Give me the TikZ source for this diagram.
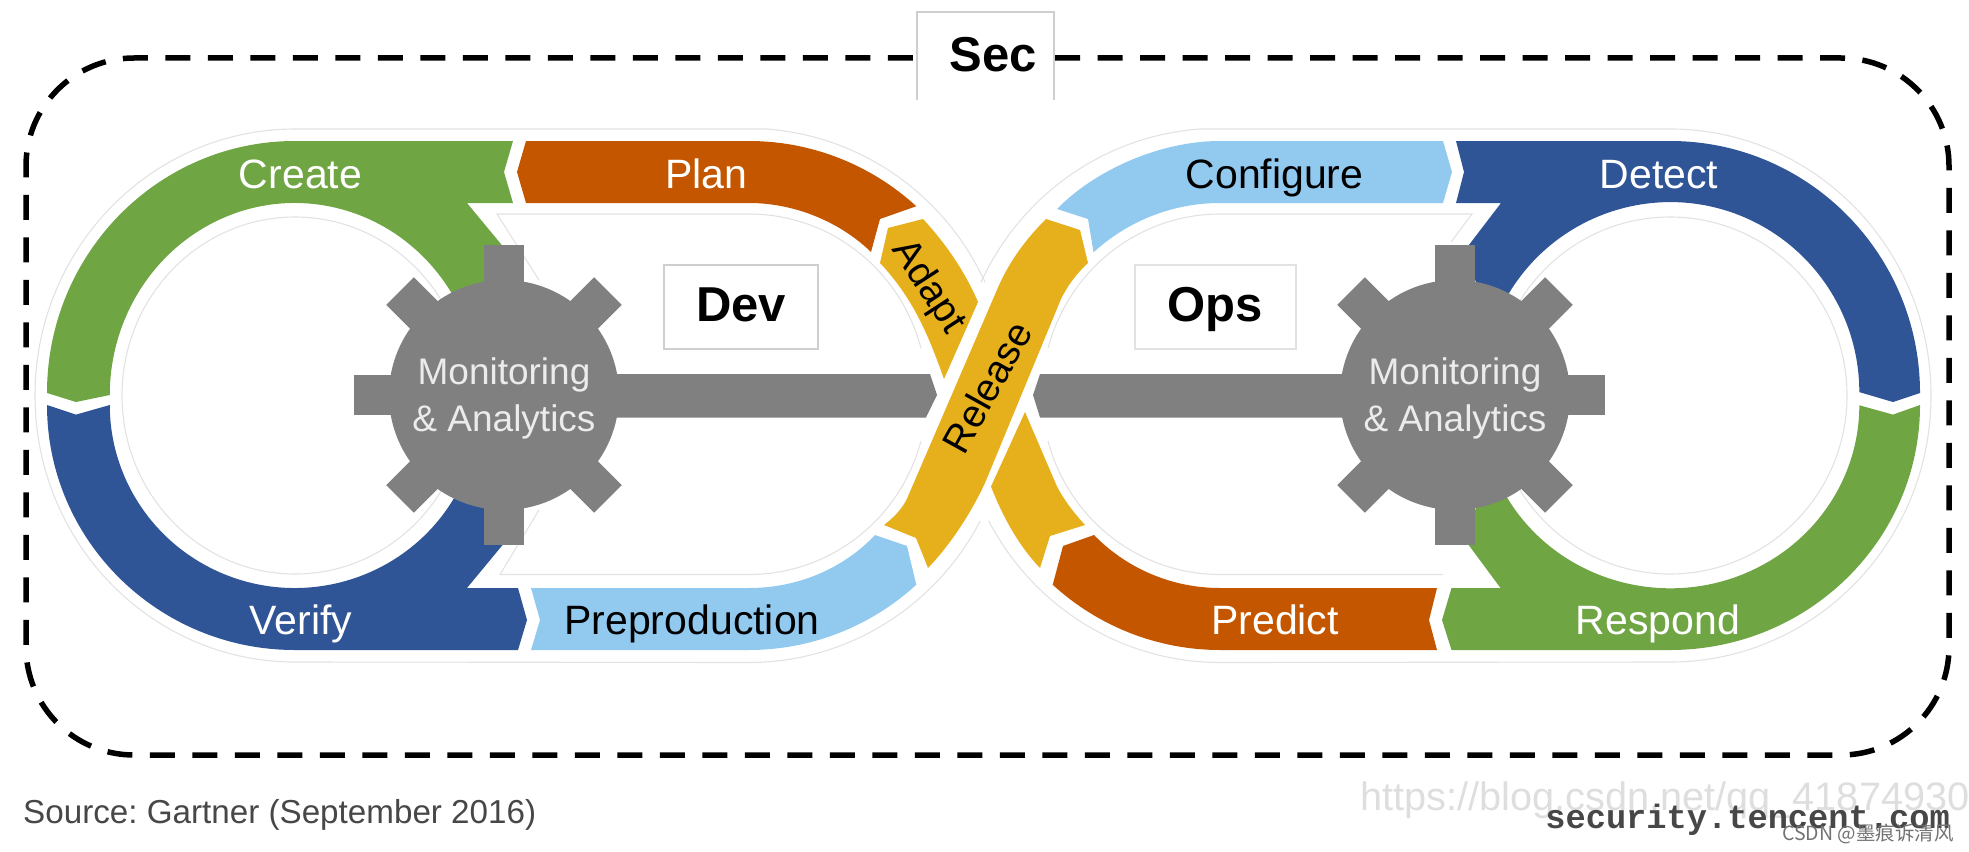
\documentclass[tikz,border=0pt]{standalone}
\usepackage{fontspec}
\setmainfont{Liberation Sans}
\newfontfamily\monofam{Liberation Mono}
\newfontfamily\cjkfam{Noto Sans CJK SC}
\definecolor{cgreen}{HTML}{70A544}
\definecolor{corange}{HTML}{C55600}
\definecolor{cblue}{HTML}{305596}
\definecolor{clight}{HTML}{92CAEF}
\definecolor{cyellow}{HTML}{E6AF1C}
\definecolor{cgray}{HTML}{808080}
\definecolor{chair}{HTML}{E2E2E2}
\definecolor{cbox}{HTML}{CFCFCF}
\newcommand{\fsz}[1]{\fontsize{#1}{#1}\selectfont}
\newcommand{\gearshape}[2]{%
 \begin{scope}[shift={(#1,#2)}]
  \fill[cgray] (0,0) circle[radius=115];
  \foreach \a in {0,90,180,270}{\fill[cgray,rotate=\a] (-20,-150) rectangle (20,0);}
  \foreach \a in {45,135,225,315}{\fill[cgray,rotate=\a] (-19.5,-147) rectangle (19.5,0);}
 \end{scope}}
\tikzset{
 lab/.style={anchor=base,inner sep=0pt,font=\fsz{41},text=#1},
 title/.style={anchor=base,inner sep=0pt,font=\fsz{49}\bfseries,text=black},
 gearlab/.style={align=center,inner sep=0pt,text=white!92!black,font=\fontsize{37}{46.5}\selectfont},
 hair/.style={draw=chair,line width=1.1pt},
 boxed/.style={draw=#1,line width=1.6pt,fill=white}
}
\begin{document}
\begin{tikzpicture}[x=1pt,y=1pt,yscale=-1]
\useasboundingbox (0,0) rectangle (1969,851);
% dashed frame
\draw[black,line width=5.5pt,dash pattern=on 25pt off 17.5pt,rounded corners=108pt]
 (1055,58) -- (1949,58) -- (1949,755) -- (26,755) -- (26,58) -- (917,58);
% Sec box
\fill[white] (917,12) rectangle (1054,100);
\draw[cbox,line width=1.6pt] (917,100) -- (917,12) -- (1054,12) -- (1054,100);
\node[title] (sec) at (993,71.5) {Sec};
% thin outlines
\draw[hair] (295,129) -- (766,129) arc[start angle=274,end angle=335,x radius=262,y radius=267];
\draw[hair] (295,129) arc[start angle=270,end angle=90,x radius=260,y radius=266.5] -- (749,662.5) arc[start angle=90,end angle=28,x radius=262,y radius=267];
\draw[hair] (1670,129) -- (1200,129) arc[start angle=266,end angle=205,x radius=262,y radius=267];
\draw[hair] (1670,129) arc[start angle=270,end angle=450,x radius=261,y radius=266.5] -- (1220,662.5) arc[start angle=90,end angle=152,x radius=262,y radius=267];
\draw[hair] (295,217) arc[start angle=270,end angle=630,x radius=173,y radius=178.5];
\draw[hair] (1670,217) arc[start angle=270,end angle=630,x radius=177,y radius=178.5];
\draw[hair] (539,280) -- (497,214) -- (749,214) arc[start angle=270,end angle=345,x radius=178,y radius=181];
\draw[hair] (539,510) -- (500,574.5) -- (749,574.5) arc[start angle=90,end angle=15,x radius=178,y radius=180];
\draw[hair] (1451,242) -- (1472,214) -- (1220,214) arc[start angle=270,end angle=195,x radius=178,y radius=181];
\draw[hair] (1443,574.5) -- (1220,574.5) arc[start angle=90,end angle=165,x radius=178,y radius=180];
% Create
\fill[cgreen] (47,393) arc[start angle=180,end angle=270,x radius=248,y radius=252] -- (513,141) -- (504,172) -- (513,203) -- (467,203) -- (510,255) -- (490,290) -- (455,299)
 arc[start angle=330,end angle=180,x radius=185,y radius=192] -- (76,402) -- cycle;
% Verify
\fill[cblue] (47,405) arc[start angle=180,end angle=90,x radius=248,y radius=245] -- (518,650) -- (527,620) -- (518,588) -- (467,588) -- (510,536) -- (490,500) -- (455,496.5)
 arc[start angle=30,end angle=180,x radius=185,y radius=183] -- (76,414.6) -- cycle;
% Plan
\fill[corange] (526,141) -- (749,141) arc[start angle=270,end angle=312,x radius=250,y radius=254] -- (880,219) -- (871,252)
 .. controls (840,222) and (795,203) .. (749,203) -- (526,203) -- (517,172) -- cycle;
% Preproduction
\fill[clight] (531,588) -- (540,620) -- (531,650) -- (749,650) arc[start angle=90,end angle=48,x radius=250,y radius=254] -- (907,546) -- (875,535)
 .. controls (845,567) and (800,588) .. (749,588) -- cycle;
% Configure
\fill[clight] (1443,141) -- (1452,172) -- (1443,203) -- (1220,203) arc[start angle=270,end angle=228,x radius=189,y radius=192] -- (1088,219) -- (1057,209)
 .. controls (1095,170) and (1160,141) .. (1220,141) -- cycle;
% Predict
\fill[corange] (1437,588) -- (1429,620) -- (1437,650) -- (1220,650) arc[start angle=90,end angle=132,x radius=250,y radius=254] -- (1063,546) -- (1094,535)
 .. controls (1125,567) and (1170,588) .. (1220,588) -- cycle;
% Detect
\fill[cblue] (1920,393) arc[start angle=360,end angle=270,x radius=250,y radius=252] -- (1456,141) -- (1464,172) -- (1456,203) -- (1501,203) -- (1462,254) -- (1480,290) -- (1505,300)
 arc[start angle=209,end angle=360,x radius=189,y radius=190] -- (1893,402) -- cycle;
% Respond
\fill[cgreen] (1920,405) arc[start angle=0,end angle=90,x radius=250,y radius=245] -- (1451.5,650) -- (1442,620) -- (1451.5,588) -- (1500.5,588) -- (1462,536) -- (1480,500) -- (1505,494)
 arc[start angle=151,end angle=0,x radius=189,y radius=183] -- (1893,414.6) -- cycle;
% gears and bars
\gearshape{504}{395}
\gearshape{1455}{395}
\fill[cgray] (504,374) -- (930,374) -- (937,395) -- (926,417.5) -- (504,417.5) -- cycle;
\fill[cgray] (1455,374) -- (1040,374) -- (1033,395) -- (1040,417.5) -- (1455,417.5) -- cycle;
% Adapt
\fill[cyellow] (888,228) -- (923,219) .. controls (947,245) and (965,272) .. (978,302) -- (944,379) .. controls (930,340) and (915,300) .. (880,263) -- cycle;
% lower yellow
\fill[cyellow] (1025,412) -- (1057,486.5) .. controls (1064,500) and (1074,513) .. (1085,525) -- (1050,536) -- (1040,568) .. controls (1018,545) and (1002,515) .. (991,486.5) -- cycle;
% Release
\fill[cyellow] (1046,219) -- (1080,230) -- (1088,263) .. controls (1075,275) and (1067,287) .. (1061,299) -- (985,483) .. controls (970,515) and (950,545) .. (928,568) -- (916,538) -- (884,525) .. controls (897,515) and (905,505) .. (909,494) -- (998,287.5) .. controls (1010,260) and (1027,238) .. (1046,219) -- cycle;
% labels
\node[lab=white] (create) at (300.5,188) {Create};
\node[lab=white] (plan) at (706.5,188) {Plan};
\node[lab=black] (configure) at (1274.5,188) {Configure};
\node[lab=white] (detect) at (1659,188) {Detect};
\node[lab=white] (verify) at (301,634) {Verify};
\node[lab=black] (preprod) at (692,634) {Preproduction};
\node[lab=white] (predict) at (1275,634) {Predict};
\node[lab=white] (respond) at (1658,634) {Respond};
\node[inner sep=0pt,font=\fsz{39},rotate=-57] (adapt) at (928,287) {Adapt};
\node[inner sep=0pt,font=\fsz{39},rotate=61] (release) at (987,387) {Release};
\node[boxed=cbox,minimum width=154pt,minimum height=84.5pt] (devbox) at (741,307) {};
\node[boxed=chair,minimum width=161pt,minimum height=84.5pt] (opsbox) at (1215.5,307) {};
\node[title] (dev) at (741,321) {Dev};
\node[title] (ops) at (1215,321) {Ops};
\node[gearlab] (mon1) at (504,398.5) {Monitoring\\\& Analytics};
\node[gearlab] (mon2) at (1455,398.5) {Monitoring\\\& Analytics};
\node[anchor=base west,inner sep=0pt,font=\fsz{33.2},text=black!72] (source) at (23,823) {\frenchspacing Source: Gartner (September 2016)};
\node[anchor=base west,inner sep=0pt,font=\fsz{39.7},text=black!13] (wm) at (1360,810) {https://blog.csdn.net/qq\_41874930};
\node[anchor=base east,inner sep=0pt,font=\monofam\bfseries\fsz{33.7},text=black!72] (tencent) at (1950,828) {security.tencent.com};
\node[anchor=base east,inner sep=0pt,font=\cjkfam\fsz{19.5},text=black!55] (csdn) at (1954,840) {CSDN @墨痕诉清风};
\end{tikzpicture}
\end{document}
